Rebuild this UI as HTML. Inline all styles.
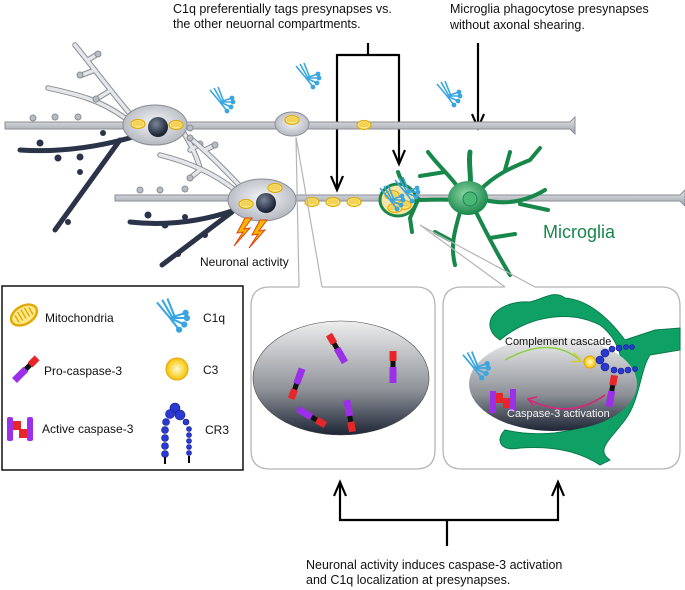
<!DOCTYPE html>
<html><head><meta charset="utf-8"><style>
html,body{margin:0;padding:0;background:#fff}
svg{display:block}
text{font-family:"Liberation Sans",Arial,sans-serif}
</style></head><body>
<svg width="685" height="590" viewBox="0 0 685 590" xmlns="http://www.w3.org/2000/svg">
<defs>
<radialGradient id="soma" cx="50%" cy="45%" r="60%"><stop offset="0" stop-color="#f4f5f8"/><stop offset="1" stop-color="#aeb2ba"/></radialGradient>
<radialGradient id="nuc" cx="40%" cy="35%" r="60%"><stop offset="0" stop-color="#7a8598"/><stop offset="1" stop-color="#1c2536"/></radialGradient>
<linearGradient id="ell" x1="0" y1="0" x2="0" y2="1"><stop offset="0" stop-color="#eeeeee"/><stop offset="0.6" stop-color="#8f9399"/><stop offset="1" stop-color="#1d2535"/></linearGradient>
<radialGradient id="mg" cx="45%" cy="40%" r="60%"><stop offset="0" stop-color="#8fd8a8"/><stop offset="1" stop-color="#17874a"/></radialGradient>
<radialGradient id="c3" cx="50%" cy="50%" r="50%"><stop offset="0" stop-color="#fffbd0"/><stop offset="1" stop-color="#f5c400"/></radialGradient>
<linearGradient id="ax" x1="0" y1="0" x2="0" y2="1"><stop offset="0" stop-color="#e6e8ec"/><stop offset="1" stop-color="#9ca0a8"/></linearGradient>
<g id="mito"><ellipse rx="7" ry="4.5" fill="#fde98a" stroke="#e0a800" stroke-width="1.2"/><path d="M-4,-2 v4 M-2,-3 v5 M0,-3 v5 M2,-3 v5 M4,-2 v4" stroke="#e0a800" stroke-width=".7"/></g>
<g id="c1q" stroke="#3aa6e0" stroke-width="1.6" fill="#3aa6e0"><path d="M0,0 L-10,-12 M2,0 L-6,-14 M4,0 L-2,-15 M0,0 L12,-4 M0,0 L13,0 M0,0 L11,5 M0,0 L7,9" fill="none"/><circle cx="12" cy="-4" r="1.6"/><circle cx="13" cy="0" r="1.6"/><circle cx="11" cy="5" r="1.6"/><circle cx="7" cy="9" r="1.6"/></g>
<g id="pro"><rect x="-3.5" y="-20" width="7" height="10" fill="#e8262a"/><rect x="-2.5" y="-10" width="5" height="6" fill="#111"/><rect x="-3.5" y="-4" width="7" height="16" fill="#9b30e8"/></g>
</defs>

<!-- top texts -->
<text x="173" y="13" font-size="12.5" fill="#111">C1q preferentially tags presynapses vs.</text>
<text x="173" y="28" font-size="12.5" fill="#111">the other neuornal compartments.</text>
<text x="450" y="13" font-size="12.5" fill="#111">Microglia phagocytose presynapses</text>
<text x="450" y="29" font-size="12.5" fill="#111">without axonal shearing.</text>

<!-- bracket arrows -->
<g stroke="#000" stroke-width="2.2" fill="none">
<path d="M368,43 V55 M337,55 H399 M337,54 V190 M399,54 V164 M478,43 V128"/>
<path d="M331,176 L337,190 L343,176 M393,150 L399,164 L405,150 M472,114 L478,128 L484,114"/>
</g>

<!-- upper neuron dendrites -->
<g fill="none" stroke-linecap="round">
<g stroke="#8a8e95" stroke-width="5.5"><path d="M125,118 C100,100 80,95 48,88 M130,114 C110,90 95,70 75,45 M95,70 L82,75 M88,60 L96,55 M108,92 L98,98 M175,118 C185,135 195,150 200,168 M190,150 L198,145"/></g>
<g stroke="#e4e6ea" stroke-width="3.5"><path d="M125,118 C100,100 80,95 48,88 M130,114 C110,90 95,70 75,45 M95,70 L82,75 M88,60 L96,55 M108,92 L98,98 M175,118 C185,135 195,150 200,168 M190,150 L198,145"/></g>
</g>
<g stroke="#8a8e95" stroke-width="1" fill="url(#ax)">
<path d="M5,122 H570 L575,117 V134 L570,129 H5 Z"/>
</g>
<g fill="#b8bcc3" stroke="#8a8e95"><circle cx="33" cy="118" r="3"/><circle cx="55" cy="117" r="3"/><circle cx="78" cy="117" r="3"/><circle cx="80" cy="75" r="3"/><circle cx="98" cy="54" r="3"/><circle cx="96" cy="99" r="3"/><circle cx="200" cy="144" r="3"/><circle cx="190" cy="128" r="3"/></g>
<path d="M20,150 C50,152 90,150 140,135 M120,140 L55,230" stroke="#2a3348" stroke-width="5" fill="none" stroke-linecap="round"/>
<g fill="#2a3348"><circle cx="40" cy="143" r="3.5"/><circle cx="58" cy="158" r="3.5"/><circle cx="80" cy="157" r="3.5"/><circle cx="80" cy="172" r="3"/><circle cx="103" cy="133" r="3"/><circle cx="68" cy="222" r="3"/></g>
<ellipse cx="155" cy="125" rx="32" ry="20" fill="url(#soma)" stroke="#8a8e95"/>
<circle cx="158" cy="127" r="10" fill="url(#nuc)"/>
<use href="#mito" x="138" y="124"/><use href="#mito" x="176" y="125"/>
<ellipse cx="292" cy="124" rx="17" ry="12" fill="url(#soma)" stroke="#8a8e95"/>
<use href="#mito" x="292" y="120"/><use href="#mito" x="364" y="125"/>
<use href="#c1q" x="220" y="102"/><use href="#c1q" x="306" y="78"/><use href="#c1q" x="447" y="96"/>

<!-- lower neuron -->
<g fill="none" stroke-linecap="round">
<g stroke="#8a8e95" stroke-width="5.5"><path d="M235,190 C210,170 180,160 160,155 M240,186 C220,165 205,150 190,138 M205,150 L215,145 M200,170 L190,178"/></g>
<g stroke="#e4e6ea" stroke-width="3.5"><path d="M235,190 C210,170 180,160 160,155 M240,186 C220,165 205,150 190,138 M205,150 L215,145 M200,170 L190,178"/></g>
</g>
<g stroke="#8a8e95" stroke-width="1" fill="url(#ax)">
<path d="M115,195 H680 L685,190 V206 L680,201 H115 Z"/>
</g>
<g fill="#b8bcc3" stroke="#8a8e95"><circle cx="140" cy="190" r="3"/><circle cx="160" cy="190" r="3"/><circle cx="185" cy="189" r="3"/><circle cx="215" cy="145" r="3"/><circle cx="190" cy="138" r="3"/><circle cx="190" cy="178" r="3"/></g>
<path d="M130,222 C165,226 200,222 235,210 M232,212 L162,265" stroke="#2a3348" stroke-width="5" fill="none" stroke-linecap="round"/>
<g fill="#2a3348"><circle cx="148" cy="215" r="3.5"/><circle cx="165" cy="225" r="3.5"/><circle cx="185" cy="217" r="3"/><circle cx="205" cy="235" r="3"/><circle cx="178" cy="254" r="3"/></g>
<ellipse cx="262" cy="200" rx="34" ry="21" fill="url(#soma)" stroke="#8a8e95"/>
<circle cx="266" cy="203" r="10" fill="url(#nuc)"/>
<use href="#mito" x="246" y="204"/><use href="#mito" x="275" y="188"/>
<use href="#mito" x="312" y="202"/><use href="#mito" x="333" y="202"/><use href="#mito" x="354" y="202"/>
<!-- lightning -->
<path d="M245,218 L237,233 L243,232 L234,246 L250,228 L244,229 L252,218 Z" fill="#f5b800" stroke="#e04010"/>
<path d="M260,220 L252,235 L258,234 L249,248 L265,230 L259,231 L267,220 Z" fill="#f5b800" stroke="#e04010"/>
<text x="200" y="266" font-size="12" fill="#111">Neuronal activity</text>

<!-- microglia -->
<g stroke="#17874a" stroke-linecap="round" stroke-linejoin="round" fill="none">
<path d="M470,195 C472,175 468,165 470,152" stroke-width="5"/>
<path d="M460,190 C450,175 440,168 428,152 M445,172 L420,176" stroke-width="4"/>
<path d="M480,190 C495,175 510,168 530,160 L540,148 M505,170 L510,152" stroke-width="4"/>
<path d="M485,200 C505,205 525,202 545,190 M520,204 L548,210" stroke-width="4"/>
<path d="M475,210 C485,230 495,250 510,275 M490,238 L515,234" stroke-width="4"/>
<path d="M460,212 C455,230 450,245 455,265 M450,240 L435,232" stroke-width="4"/>
<path d="M455,200 C440,199 430,200 418,200 L410,218 L412,232 M420,200 C410,192 402,185 398,172" stroke-width="4"/>
</g>
<ellipse cx="468" cy="198" rx="20" ry="17" fill="url(#mg)"/>
<circle cx="470" cy="199" r="7" fill="#4cb878" stroke="#17874a"/>
<ellipse cx="398" cy="200" rx="18" ry="16" fill="#f6e4a8" stroke="#17874a" stroke-width="3"/>
<use href="#mito" x="392" y="195"/><use href="#mito" x="404" y="205"/><use href="#mito" x="395" y="208"/>
<use href="#c1q" x="390" y="200"/><use href="#c1q" x="405" y="192"/>
<text x="543" y="238" font-size="18" fill="#17874a">Microglia</text>

<!-- zoom lines -->
<g stroke="#b5b5b5" stroke-width="1.2" fill="none">
<path d="M296,137 L299,287 M296,137 L322,287"/>
<path d="M420,225 L505,287 M420,225 L535,287"/>
</g>

<!-- legend -->
<rect x="2" y="286" width="241" height="184" fill="#fff" stroke="#111" stroke-width="1.5"/>
<g transform="translate(24,315) rotate(-30) scale(2)"><use href="#mito"/></g>
<text x="45" y="322" font-size="12" fill="#111">Mitochondria</text>
<g transform="translate(170,318) scale(1.3)"><use href="#c1q"/></g>
<text x="203" y="322" font-size="12" fill="#111">C1q</text>
<g transform="translate(23,372) rotate(45)"><use href="#pro"/></g>
<text x="44" y="375" font-size="12" fill="#111">Pro-caspase-3</text>
<circle cx="177" cy="369" r="11" fill="url(#c3)" stroke="#e8a000"/>
<text x="203" y="374" font-size="12" fill="#111">C3</text>
<g>
<rect x="7" y="417" width="6" height="24" rx="2" fill="#9b30e8"/><rect x="13" y="421" width="8" height="9" fill="#e8262a"/><rect x="19" y="429" width="8" height="9" fill="#e8262a"/><rect x="27" y="417" width="6" height="24" rx="2" fill="#9b30e8"/>
</g>
<text x="42" y="433" font-size="12" fill="#111">Active caspase-3</text>
<g fill="#2a3ad0" stroke="#101890" stroke-width=".6">
<circle cx="175" cy="408" r="5"/><circle cx="180" cy="415" r="5"/><circle cx="170" cy="414" r="4.5"/><circle cx="166" cy="422" r="3.5"/><circle cx="165" cy="430" r="3.5"/><circle cx="165" cy="438" r="3.5"/><circle cx="165" cy="446" r="3.5"/><circle cx="165" cy="454" r="3.5"/>
<circle cx="186" cy="422" r="3"/><circle cx="189" cy="429" r="2.5"/><circle cx="189" cy="435" r="2.5"/><circle cx="189" cy="441" r="2.5"/><circle cx="189" cy="447" r="2.5"/><circle cx="189" cy="453" r="2.5"/>
</g>
<path d="M165,457 v7 M189,456 v7" stroke="#000" stroke-width="2"/>
<text x="205" y="434" font-size="12" fill="#111">CR3</text>

<!-- left panel -->
<path d="M299,287 H270 Q251,287 251,306 V450 Q251,469 270,469 H416 Q435,469 435,450 V306 Q435,287 416,287 H322" fill="none" stroke="#b5b5b5" stroke-width="1.3"/>
<ellipse cx="341" cy="378" rx="88" ry="57" fill="url(#ell)" stroke="#444" stroke-width=".6"/>
<g transform="translate(298,380) rotate(200)"><use href="#pro"/></g>
<g transform="translate(339,352) rotate(-30)"><use href="#pro"/></g>
<g transform="translate(393,371) rotate(0)"><use href="#pro"/></g>
<g transform="translate(349,412) rotate(170)"><use href="#pro"/></g>
<g transform="translate(308,415) rotate(120)"><use href="#pro"/></g>

<!-- right panel -->
<path d="M505,287 H462 Q443,287 443,306 V450 Q443,469 462,469 H661 Q680,469 680,450 V306 Q680,287 661,287 H535" fill="none" stroke="#b5b5b5" stroke-width="1.3"/>
<path d="M495,336 C480,320 500,300 530,302 C545,298 555,290 565,298 C590,300 610,320 625,340 L655,330 L680,328 L680,350 L650,355 C640,370 640,400 625,420 C610,440 595,450 610,460 L600,465 C585,455 560,445 520,448 C500,452 495,440 505,430 C550,440 600,430 615,400 C630,370 620,340 600,325 C570,310 530,315 500,340 Z" fill="#0fa065" stroke="#0a7a4a"/>
<ellipse cx="553" cy="384" rx="84" ry="47" fill="url(#ell)"/>
<text x="505" y="345" font-size="11" fill="#111">Complement cascade</text>
<path d="M505,360 Q550,335 580,360" stroke="#8ad040" stroke-width="1.5" fill="none"/>
<path d="M574,353 L581,361 L572,362" stroke="#d0d020" stroke-width="1.5" fill="none"/>
<circle cx="590" cy="362" r="6" fill="url(#c3)" stroke="#e8a000"/>
<g fill="#2a3ad0" stroke="#101890" stroke-width=".6">
<circle cx="600" cy="360" r="4"/><circle cx="605" cy="353" r="4"/><circle cx="605" cy="367" r="4"/><circle cx="612" cy="349" r="3"/><circle cx="619" cy="348" r="3"/><circle cx="626" cy="347" r="2.5"/><circle cx="632" cy="347" r="2.5"/><circle cx="614" cy="370" r="3"/><circle cx="621" cy="371" r="3"/><circle cx="628" cy="370" r="3"/><circle cx="635" cy="369" r="2.5"/>
</g>
<g transform="translate(474,368) scale(1.1)"><use href="#c1q"/></g>
<rect x="490" y="391" width="6" height="22" fill="#9b30e8"/><rect x="496" y="393" width="7" height="10" fill="#e8262a"/><rect x="503" y="398" width="7" height="10" fill="#e8262a"/><rect x="510" y="389" width="6" height="22" fill="#9b30e8"/>
<g transform="translate(611,395) rotate(10)"><use href="#pro"/></g>
<path d="M605,395 Q570,420 530,400" stroke="#e0207a" stroke-width="1.5" fill="none"/>
<path d="M537,397 L528,399 L534,406" stroke="#e0207a" stroke-width="1.5" fill="none"/>
<text x="507" y="417" font-size="11" fill="#f2f2f2">Caspase-3 activation</text>

<!-- bottom arrows -->
<g stroke="#000" stroke-width="2.2" fill="none">
<path d="M340,482 V520 H558 V482 M447,520 V546"/>
<path d="M334,496 L340,482 L346,496 M552,496 L558,482 L564,496"/>
</g>
<text x="306" y="569" font-size="12.5" fill="#111">Neuronal activity induces caspase-3 activation</text>
<text x="306" y="584" font-size="12.5" fill="#111">and C1q localization at presynapses.</text>
</svg>
</body></html>
